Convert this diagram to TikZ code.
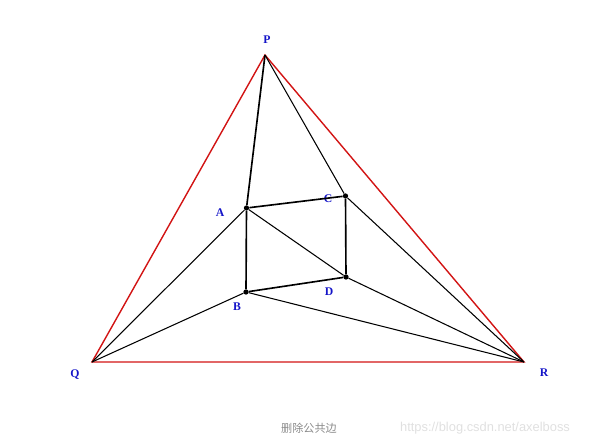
\documentclass[tikz,border=0pt]{standalone}
\usepackage{fontspec}
\setmainfont{Liberation Serif}
\setsansfont{Liberation Sans}
\newfontfamily\cjk{Noto Sans CJK SC}
\usetikzlibrary{positioning}
\definecolor{lblblue}{RGB}{20,20,200}
\definecolor{edgered}{RGB}{210,20,20}
\begin{document}
\begin{tikzpicture}[x=0.03cm,y=-0.03cm,
            vertex/.style={circle,fill=black,inner sep=0pt,minimum size=4.5pt},
            corner/.style={inner sep=0pt,minimum size=0pt},
            lbl/.style={text=lblblue,font=\bfseries\fontsize{10}{11}\selectfont,inner sep=0pt},
            heavy/.style={line width=1.4pt},
            light/.style={line width=0.9pt}]
        \useasboundingbox (0,0) rectangle (613,442);

        % Define vertices
        \node[corner] (P) at (265,55) {};
        \node[corner] (Q) at (92,362) {};
        \node[corner] (R) at (524,362) {};
        \node[vertex] (A) at (246.5,208) {};
        \node[vertex] (C) at (345.5,196) {};
        \node[vertex] (B) at (246,292) {};
        \node[vertex] (D) at (346,277) {};

        % Labels
        \node[lbl] at (267,40) {P};
        \node[lbl] at (75,375) {Q};
        \node[lbl] at (544,373) {R};
        \node[lbl] at (220,213) {A};
        \node[lbl] at (328,199) {C};
        \node[lbl] at (237,307) {B};
        \node[lbl] at (329,292) {D};

        % Draw edges
        \draw[edgered,line width=1.2pt] (P.center) -- (Q.center) -- (R.center) -- cycle;
        \path[heavy]
            (P.center) edge (A)
            (A) edge (C)
            (A) edge (B)
            (C) edge (D)
            (B) edge (D);
        \path[light]
            (P.center) edge (C)
            (A) edge (D)
            (A) edge (Q.center)
            (B) edge (Q.center)
            (B) edge (R.center)
            (D) edge (R.center)
            (C) edge (R.center);

        % Caption
        \node[text=black!45,font=\cjk\fontsize{9.5}{11}\selectfont] (cap) at (309,428) {删除公共边};
        \node[text=black!12,font=\sffamily\fontsize{11}{13}\selectfont,anchor=west] (wm) at (396,428) {https://blog.csdn.net/axelboss};
\end{tikzpicture}
\end{document}
